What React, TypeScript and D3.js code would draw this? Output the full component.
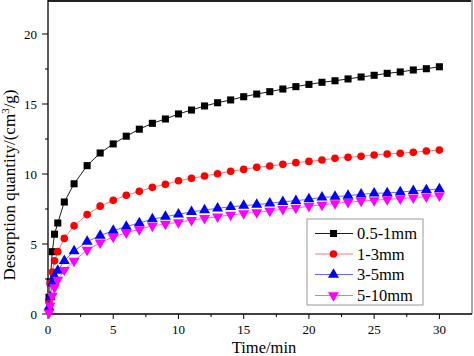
import React from "react";
import * as d3 from "d3";

const times = [0.08, 0.17, 0.33, 0.5, 0.75, 1.25, 2, 3, 4, 5, 6, 7, 8, 9, 10, 11, 12, 13, 14, 15, 16, 17, 18, 19, 20, 21, 22, 23, 24, 25, 26, 27, 28, 29, 30];

const s05_1 = [1.2, 2.3, 4.45, 5.7, 6.5, 8.0, 9.3, 10.6, 11.5, 12.15, 12.7, 13.2, 13.62, 13.93, 14.29, 14.57, 14.86, 15.09, 15.29, 15.52, 15.71, 15.88, 16.07, 16.24, 16.4, 16.55, 16.66, 16.79, 16.93, 17.05, 17.19, 17.29, 17.43, 17.52, 17.66];
const s1_3 = [0.9, 2.2, 3.0, 3.8, 4.45, 5.4, 6.3, 7.1, 7.7, 8.12, 8.48, 8.76, 9.05, 9.26, 9.52, 9.69, 9.86, 10.02, 10.19, 10.33, 10.48, 10.57, 10.69, 10.81, 10.9, 11.0, 11.12, 11.19, 11.26, 11.36, 11.43, 11.48, 11.55, 11.64, 11.71];
const s3_5 = [0.5, 1.2, 2.2, 2.7, 3.1, 3.8, 4.5, 5.17, 5.6, 5.95, 6.24, 6.5, 6.78, 6.95, 7.12, 7.29, 7.43, 7.55, 7.66, 7.74, 7.81, 7.91, 8.02, 8.09, 8.2, 8.33, 8.38, 8.45, 8.55, 8.62, 8.64, 8.71, 8.79, 8.86, 8.93];
const s5_10 = [0.1, 0.6, 1.3, 1.9, 2.43, 3.14, 3.8, 4.57, 5.09, 5.5, 5.81, 6.05, 6.29, 6.43, 6.55, 6.71, 6.84, 6.95, 7.07, 7.19, 7.26, 7.36, 7.48, 7.57, 7.7, 7.79, 7.9, 7.98, 8.07, 8.12, 8.19, 8.24, 8.31, 8.38, 8.45];

const seriesNames = ["0.5-1mm", "1-3mm", "3-5mm", "5-10mm"];
const xTicks = [0, 5, 10, 15, 20, 25, 30];
const yTicks = [0, 5, 10, 15, 20];

const seriesValues = [s05_1, s1_3, s3_5, s5_10];
const colors = ["#000000", "#ff0000", "#0000ff", "#ff00ff"];
const lineColors = ["#000000", "#ff6666", "#5555ff", "#ff44ff"];
const symbols = [d3.symbolSquare, d3.symbolCircle, d3.symbolTriangle, d3.symbolTriangle];
const symSizes = [50, 46, 52, 52];
const rotations = [0, 0, 0, 180];

const W = 474, H = 356;
const L = 48, R = 472, T = -1, B = 314;
const FONT = "'Liberation Serif', 'Times New Roman', Times, serif";

export default function App() {
  const x = d3.scaleLinear().domain([0, 32.5]).range([L, R]);
  const y = d3.scaleLinear().domain([0, 22.5]).range([B, T]);
  const line = d3.line<[number, number]>().x(d => x(d[0])).y(d => y(d[1]));
  const ts = { fontFamily: FONT } as React.CSSProperties;

  const xMinor = d3.range(0, 32.5, 2.5).filter(v => v % 5 !== 0);
  const yMinor = d3.range(0, 22.5, 2.5).filter(v => v % 5 !== 0);

  const legX = 307, legY = 219, legW = 116, legH = 86;
  const rowY = [233.5, 254, 274.5, 295.5];

  return (
    <div style={{ position: "absolute", left: 0, top: 0 }}>
      <svg width={W} height={H} style={{ display: "block", background: "#fff" }}>
        {/* frame */}
        <line x1={L} x2={R} y1={1} y2={1} stroke="#222" strokeWidth={2.2} />
        <line x1={R} x2={R} y1={0} y2={B} stroke="#a8a8a8" strokeWidth={2} />
        <line x1={L} x2={L} y1={0} y2={B + 0.5} stroke="#000" strokeWidth={1.3} />
        <line x1={L} x2={R} y1={B} y2={B} stroke="#000" strokeWidth={1.3} />

        {/* x ticks */}
        {xTicks.map(t => (
          <g key={"xt" + t}>
            <line x1={x(t)} x2={x(t)} y1={B} y2={B + 5} stroke="#000" strokeWidth={1} />
            <text x={x(t)} y={334} style={ts} fontSize={13} textAnchor="middle">{t}</text>
          </g>
        ))}
        {xMinor.map(t => (
          <line key={"xm" + t} x1={x(t)} x2={x(t)} y1={B} y2={B + 3} stroke="#000" strokeWidth={1} />
        ))}
        {/* y ticks */}
        {yTicks.map(t => (
          <g key={"yt" + t}>
            <line x1={L - 6} x2={L} y1={y(t)} y2={y(t)} stroke="#000" strokeWidth={1} />
            <text x={37} y={y(t) + 4.5} style={ts} fontSize={13} textAnchor="end">{t}</text>
          </g>
        ))}
        {yMinor.map(t => (
          <line key={"ym" + t} x1={L - 3} x2={L} y1={y(t)} y2={y(t)} stroke="#000" strokeWidth={1} />
        ))}

        {/* axis titles */}
        <text x={264} y={353} style={ts} fontSize={16.5} textAnchor="middle">Time/min</text>
        <text transform={`translate(15,185) rotate(-90)`} style={ts} fontSize={17} textAnchor="middle">
          Desorption quantity/(cm<tspan dy={-6} fontSize={11}>3</tspan><tspan dy={6}>/g)</tspan>
        </text>

        {/* series */}
        {seriesValues.map((vals, i) => {
          const pts: [number, number][] = times.map((t, j) => [t, vals[j]]);
          const sym = d3.symbol().type(symbols[i]).size(symSizes[i])();
          return (
            <g key={"s" + i}>
              <path d={line(pts) || ""} fill="none" stroke={lineColors[i]} strokeWidth={0.9} />
              {pts.map((p, j) => (
                <path key={j} d={sym || ""} fill={colors[i]}
                  transform={`translate(${x(p[0])},${y(p[1])}) rotate(${rotations[i]})`} />
              ))}
            </g>
          );
        })}

        {/* legend */}
        <rect x={legX} y={legY} width={legW} height={legH} fill="#fff" stroke="#999" strokeWidth={1} />
        {seriesNames.map((n, i) => {
          const sym = d3.symbol().type(symbols[i]).size(symSizes[i])();
          return (
            <g key={"l" + i}>
              <line x1={315} x2={353} y1={rowY[i]} y2={rowY[i]} stroke={lineColors[i]} strokeWidth={0.9} />
              <path d={sym || ""} fill={colors[i]} transform={`translate(333.5,${rowY[i]}) rotate(${rotations[i]})`} />
              <text x={357} y={rowY[i] + 5.5} style={ts} fontSize={16.5}>{n}</text>
            </g>
          );
        })}
      </svg>
    </div>
  );
}
